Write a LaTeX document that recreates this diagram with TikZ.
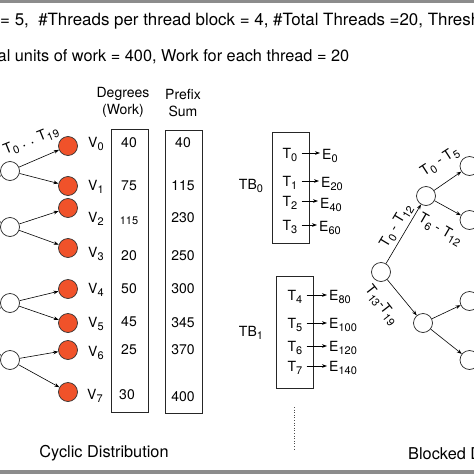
\documentclass[tikz,border=0pt]{standalone}
\usepackage{fontspec}
\setmainfont{TeX Gyre Heros}
\usetikzlibrary{arrows.meta}
\definecolor{vred}{HTML}{F0522A}
\definecolor{barg}{HTML}{8C8C8C}
\newcommand\ssub[1]{\raisebox{-3.6pt}{\fontsize{11}{12}\selectfont #1}}
\begin{document}
\begin{tikzpicture}[x=1pt,y=-1pt,
  lbl/.style={font=\fontsize{14}{16}\selectfont, inner sep=0pt},
  tlbl/.style={lbl, inner xsep=4pt},
  elbl/.style={lbl, inner xsep=2pt, anchor=west},
  small/.style={font=\fontsize{11}{13}\selectfont, inner sep=0pt},
  big/.style={font=\fontsize{16.3}{19}\selectfont, inner sep=0pt},
  wnode/.style={circle, draw=black!85, line width=0.7pt, fill=white, minimum size=19pt, inner sep=0pt},
  rnode/.style={circle, draw=black!80, line width=0.7pt, fill=vred, minimum size=19pt, inner sep=0pt},
  arr/.style={-{Stealth[length=5pt,width=3.6pt]}, line width=0.6pt},
  colbox/.style={draw=black!85, line width=0.8pt, inner sep=0pt}
]
\useasboundingbox (0,0) rectangle (474,474);
\clip (0,0) rectangle (474,474);
% gray bars
\fill[barg] (0,0) rectangle (474,2.5);
\fill[barg] (0,469.5) rectangle (474,474);

% title lines
\node[big, font=\fontsize{16.9}{20}\selectfont, anchor=base west] (t1) at (0,25) {= 5,\ \ \#Threads per thread block = 4, \#Total Threads =20, Thresh};
\node[big, anchor=base west] (t2) at (-2.5,61) {al units of work = 400, Work for each thread = 20};

% headers
\node[lbl] (hd1) at (123,94) {Degrees};
\node[lbl] (hd2) at (123,111) {(Work)};
\node[lbl] (hp1) at (183,94) {Prefix};
\node[lbl] (hp2) at (183,111) {Sum};

% column boxes
\node[colbox, minimum width=37pt, minimum height=283pt] (degbox) at (129.5,270.5) {};
\node[colbox, minimum width=37pt, minimum height=283pt] (prebox) at (183.5,271.5) {};

% degree values
\node[lbl] (d0) at (129,143) {40};
\node[lbl] (d1) at (129,186) {75};
\node[small] (d2) at (129,221) {115};
\node[lbl] (d3) at (129,256) {20};
\node[lbl] (d4) at (129,289) {50};
\node[lbl] (d5) at (129,322) {45};
\node[lbl] (d6) at (129,350) {25};
\node[lbl] (d7) at (127,395) {30};
% prefix values
\node[lbl] (s0) at (183,143) {40};
\node[lbl] (s1) at (183,186) {115};
\node[lbl] (s2) at (183,218) {230};
\node[lbl] (s3) at (183,256) {250};
\node[lbl] (s4) at (183,289) {300};
\node[lbl] (s5) at (183,323) {345};
\node[lbl] (s6) at (183,350) {370};
\node[lbl] (s7) at (183,397) {400};

% red vertex nodes
\node[rnode] (v0) at (68,146) {};
\node[rnode] (v1) at (68,186) {};
\node[rnode] (v2) at (68,208) {};
\node[rnode] (v3) at (68,248) {};
\node[rnode] (v4) at (68,289) {};
\node[rnode] (v5) at (68,323) {};
\node[rnode] (v6) at (68,350) {};
\node[rnode] (v7) at (68,392) {};
% V labels
\node[lbl, anchor=base west] (lv0) at (88,147) {V\ssub{0}};
\node[lbl, anchor=base west] (lv1) at (88,190) {V\ssub{1}};
\node[lbl, anchor=base west] (lv2) at (88,222) {V\ssub{2}};
\node[lbl, anchor=base west] (lv3) at (88,257) {V\ssub{3}};
\node[lbl, anchor=base west] (lv4) at (88,293) {V\ssub{4}};
\node[lbl, anchor=base west] (lv5) at (88,327) {V\ssub{5}};
\node[lbl, anchor=base west] (lv6) at (88,356) {V\ssub{6}};
\node[lbl, anchor=base west] (lv7) at (87,399) {V\ssub{7}};

% white nodes (left, partially cut)
\node[wnode] (w1) at (10,171) {};
\node[wnode] (w2) at (10,227) {};
\node[wnode] (w3) at (10,303) {};
\node[wnode] (w4) at (10,360) {};
\coordinate (p1) at (-45,199);
\coordinate (p2) at (-45,331);
\draw[arr] (p1) -- (w1);
\draw[arr] (p1) -- (w2);
\draw[arr] (p2) -- (w3);
\draw[arr] (p2) -- (w4);
\draw[arr] (w1) -- (v0);
\draw[arr] (w1) -- (v1);
\draw[arr] (w2) -- (v2);
\draw[arr] (w2) -- (v3);
\draw[arr] (w3) -- (v4);
\draw[arr] (w3) -- (v5);
\draw[arr] (w4) -- (v6);
\draw[arr] (w4) -- (v7);
\node[lbl, rotate=22] (lt) at (31,141) {T\ssub{0} . . T\ssub{19}};

\node[big] (cyc) at (104,453) {Cyclic Distribution};

% thread blocks
\node[colbox, minimum width=37pt, minimum height=111pt] (tb0) at (290.5,187.5) {};
\node[colbox, minimum width=37pt, minimum height=112pt] (tb1) at (294.5,332) {};
\node[lbl, anchor=base] (ltb0) at (251,189) {TB\ssub{0}};
\node[lbl, anchor=base] (ltb1) at (251,336) {TB\ssub{1}};

\node[tlbl, anchor=base] (ta0) at (290,158) {T\ssub{0}};
\node[tlbl, anchor=base] (ta1) at (290,186) {T\ssub{1}};
\node[tlbl, anchor=base] (ta2) at (290,206) {T\ssub{2}};
\node[tlbl, anchor=base] (ta3) at (290,230) {T\ssub{3}};
\node[elbl, anchor=base west] (e0) at (320,159) {E\ssub{0}};
\node[elbl, anchor=base west] (e1) at (319,187) {E\ssub{20}};
\node[elbl, anchor=base west] (e2) at (318,208) {E\ssub{40}};
\node[elbl, anchor=base west] (e3) at (317,231) {E\ssub{60}};
\draw[arr] ([yshift=5pt]ta0.base east) -- ([yshift=5pt]ta0.base east -| e0.west);
\draw[arr] ([yshift=5pt]ta1.base east) -- ([yshift=5pt]ta1.base east -| e1.west);
\draw[arr] ([yshift=5pt]ta2.base east) -- ([yshift=5pt]ta2.base east -| e2.west);
\draw[arr] ([yshift=5pt]ta3.base east) -- ([yshift=5pt]ta3.base east -| e3.west);

\node[tlbl, anchor=base] (tc4) at (295,300) {T\ssub{4}};
\node[tlbl, anchor=base] (tc5) at (295,328) {T\ssub{5}};
\node[tlbl, anchor=base] (tc6) at (295,351) {T\ssub{6}};
\node[tlbl, anchor=base] (tc7) at (295,371) {T\ssub{7}};
\node[elbl, anchor=base west] (e4) at (327,300) {E\ssub{80}};
\node[elbl, anchor=base west] (e5) at (327,328) {E\ssub{100}};
\node[elbl, anchor=base west] (e6) at (327,351) {E\ssub{120}};
\node[elbl, anchor=base west] (e7) at (327,371) {E\ssub{140}};
\draw[arr] ([yshift=5pt]tc4.base east) -- ([yshift=5pt]tc4.base east -| e4.west);
\draw[arr] ([yshift=5pt]tc5.base east) -- ([yshift=5pt]tc5.base east -| e5.west);
\draw[arr] ([yshift=5pt]tc6.base east) -- ([yshift=5pt]tc6.base east -| e6.west);
\draw[arr] ([yshift=5pt]tc7.base east) -- ([yshift=5pt]tc7.base east -| e7.west);

\coordinate (dt1) at (294,407);
\coordinate (dt2) at (294,451);
\draw[dotted, line width=0.6pt, black!70] (dt1) -- (dt2);

% blocked tree
\node[wnode] (r) at (381,272) {};
\node[wnode] (mu) at (426,196) {};
\node[wnode] (ml) at (423,323) {};
\node[wnode] (l1) at (469.5,166) {};
\node[wnode] (l2) at (469.5,220) {};
\node[wnode] (l3) at (469.5,301) {};
\node[wnode] (l4) at (469.5,360) {};
\draw[arr] (r) -- (mu);
\draw[arr] (r) -- (ml);
\draw[arr] (mu) -- (l1);
\draw[arr] (mu) -- (l2);
\draw[arr] (ml) -- (l3);
\draw[arr] (ml) -- (l4);
\node[lbl, rotate=59] (la) at (396.5,226) {T\ssub{0} - T\ssub{12}};
\node[lbl, rotate=-52] (lb) at (381,305) {T\ssub{13}-T\ssub{19}};
\node[lbl, rotate=33] (lc) at (440,162) {T\ssub{0} - T\ssub{5}};
\node[lbl, rotate=-30] (ld) at (440,230) {T\ssub{6} - T\ssub{12}};

\node[big, anchor=west] (blk) at (408,454) {Blocked D};
\end{tikzpicture}
\end{document}
